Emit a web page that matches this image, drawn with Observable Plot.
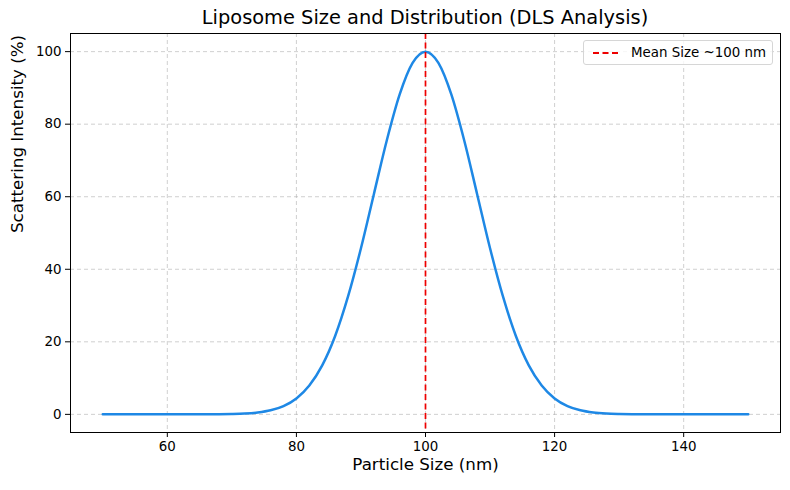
<!DOCTYPE html>
<html>
<head>
<meta charset="utf-8">
<script src="https://cdn.jsdelivr.net/npm/d3@7"></script>
<script src="https://cdn.jsdelivr.net/npm/@observablehq/plot@0.6"></script>
<style>
  html, body { margin: 0; padding: 0; background: #fff; }
  body { width: 790px; height: 490px; overflow: hidden; font-family: "DejaVu Sans", sans-serif; }
  #wrap { position: relative; width: 790px; height: 490px; }
  #title { height: 30px; line-height: 36px; text-align: center; font-size: 19.4px; color: #000; padding-left: 60px; }
  #legend { position: absolute; left: 583px; top: 40px; width: 190px; height: 25px; box-sizing: border-box;
    border: 1px solid #d6d6d6; border-radius: 3px; background: rgba(255,255,255,0.8);
    font-size: 13.4px; display: flex; align-items: center; }
  #legend svg { margin-left: 9px; margin-right: 10px; }
</style>
</head>
<body>
<div id="wrap">
  <div id="title">Liposome Size and Distribution (DLS Analysis)</div>
  <div id="chart"></div>
  <div id="legend"><svg width="28" height="6"><line x1="0" y1="3" x2="28" y2="3" stroke="#ee0000" stroke-width="2" stroke-dasharray="6,3.5"></line></svg><span>Mean Size ~100 nm</span></div>
</div>
<script>
// Particle size (nm) and scattering intensity (%)
const sizes = [50,52,54,56,58,60,62,64,66,68,70,72,74,76,78,80,82,84,86,88,90,92,94,96,98,100,
  102,104,106,108,110,112,114,116,118,120,122,124,126,128,130,132,134,136,138,140,142,144,146,148,150];
const intensity = [0,0,0,0,0,0,0,0,0.01,0.03,0.09,0.22,0.51,1.11,2.28,4.39,7.96,13.5,21.6,32.5,45.8,60.7,75.5,88.2,96.9,100,
  96.9,88.2,75.5,60.7,45.8,32.5,21.6,13.5,7.96,4.39,2.28,1.11,0.51,0.22,0.09,0.03,0.01,0,0,0,0,0,0,0,0];
const meanSize = [100];
const xTicks = [60, 80, 100, 120, 140];
const yTicks = [0, 20, 40, 60, 80, 100];

const data = sizes.map((s, i) => ({size: s, value: intensity[i]}));

const chart = Plot.plot({
  width: 790,
  height: 460,
  marginTop: 3,
  marginBottom: 58,
  marginLeft: 70,
  marginRight: 10,
  style: {fontFamily: "DejaVu Sans, sans-serif", fontSize: "13.4px", color: "#000", background: "#fff"},
  x: {domain: [45, 155]},
  y: {domain: [-5, 105]},
  marks: [
    Plot.gridX(xTicks, {stroke: "#b0b0b0", strokeOpacity: 0.6, strokeDasharray: "4,3"}),
    Plot.gridY(yTicks, {stroke: "#b0b0b0", strokeOpacity: 0.6, strokeDasharray: "4,3"}),
    Plot.axisX(xTicks, {tickSize: 5, tickPadding: 4, label: null, fontSize: 13.4}),
    Plot.axisY(yTicks, {tickSize: 5, tickPadding: 4, label: null, fontSize: 13.4}),
    Plot.line(data, {x: "size", y: "value", stroke: "#1E88E5", strokeWidth: 2.5, curve: "monotone-x"}),
    Plot.ruleX(meanSize, {stroke: "#ee0000", strokeWidth: 1.7, strokeDasharray: "6,3.5"}),
    Plot.frame({stroke: "#000", strokeWidth: 1}),
    Plot.text(["Particle Size (nm)"], {frameAnchor: "bottom", dy: 37, fontSize: 16.7}),
    Plot.text(["Scattering Intensity (%)"], {frameAnchor: "left", dx: -53, rotate: -90, fontSize: 16.7})
  ]
});
document.getElementById("chart").appendChild(chart);
</script>
</body>
</html>
